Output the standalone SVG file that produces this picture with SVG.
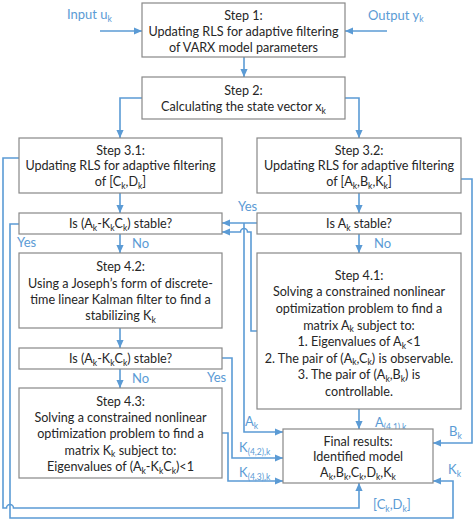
<svg xmlns="http://www.w3.org/2000/svg" width="474" height="520" viewBox="0 0 474 520">
<style>
.b{fill:#fff;stroke:#888;stroke-width:1.2}
.t{font-family:Lato,"Liberation Sans",sans-serif;font-size:12.6px;fill:#262626;text-anchor:middle}
.l{font-family:Lato,"Liberation Sans",sans-serif;font-size:13px;fill:#5b9bd5}
.s{font-size:8.5px}
.c{fill:none;stroke:#5b9bd5;stroke-width:1.6}
</style>
<defs>
<marker id="a" viewBox="0 0 10 10" refX="10" refY="5" markerWidth="8" markerHeight="8" orient="auto" markerUnits="userSpaceOnUse">
<path d="M0,0.5 L10,5 L0,9.5 z" fill="#5b9bd5"/>
</marker>
</defs>
<rect width="474" height="520" fill="#fff"/>

<g id="connectors">
<path class="c" d="M100,31 H142" marker-end="url(#a)"/>
<path class="c" d="M387,31 H345" marker-end="url(#a)"/>
<path class="c" d="M244,57 V77" marker-end="url(#a)"/>
<path class="c" d="M142,98 H120 V138" marker-end="url(#a)"/>
<path class="c" d="M345,98 H359 V138" marker-end="url(#a)"/>
<path class="c" d="M120,193 V213" marker-end="url(#a)"/>
<path class="c" d="M359,193 V213" marker-end="url(#a)"/>
<path class="c" d="M257,223 H222" marker-end="url(#a)"/>
<path class="c" d="M244,223 V432 H283" marker-end="url(#a)"/>
<path class="c" d="M257,331 H251 V232 H247.5 A3.5,3.5 0 0 0 240.5,232 H222" marker-end="url(#a)"/>
<path class="c" d="M120,234 V253" marker-end="url(#a)"/>
<path class="c" d="M120,328 V348" marker-end="url(#a)"/>
<path class="c" d="M120,369 V388" marker-end="url(#a)"/>
<path class="c" d="M222,358 H232 V458 H283" marker-end="url(#a)"/>
<path class="c" d="M222,433 H228 V481 H283" marker-end="url(#a)"/>
<path class="c" d="M359,234 V253" marker-end="url(#a)"/>
<path class="c" d="M359,409 V429" marker-end="url(#a)"/>
<path class="c" d="M461,179 H472 V443 H433" marker-end="url(#a)"/>
<path class="c" d="M19,158 H3 V508 H6.5 A3.5,3.5 0 0 1 13.5,508 H359 V483" marker-end="url(#a)"/>
<path class="c" d="M19,224 H10 V518 H453 V481 H433" marker-end="url(#a)"/>
</g>

<g id="labels">
<text class="l" x="67" y="19">Input u<tspan class="s" dy="2.5">k</tspan></text>
<text class="l" x="368" y="19.5">Output y<tspan class="s" dy="2.5">k</tspan></text>
<text class="l" x="238" y="211">Yes</text>
<text class="l" x="17" y="247">Yes</text>
<text class="l" x="132" y="248">No</text>
<text class="l" x="374" y="248">No</text>
<text class="l" x="132" y="383">No</text>
<text class="l" x="207" y="382">Yes</text>
<text class="l" x="245" y="426">A<tspan class="s" dy="2.5">k</tspan></text>
<text class="l" x="375" y="427">A<tspan class="s" dy="2.5">(4,1),k</tspan></text>
<text class="l" x="449" y="436">B<tspan class="s" dy="2.5">k</tspan></text>
<text class="l" x="239" y="452">K<tspan class="s" dy="2.5">(4,2),k</tspan></text>
<text class="l" x="239" y="477">K<tspan class="s" dy="2.5">(4,3),k</tspan></text>
<text class="l" x="448" y="474">K<tspan class="s" dy="2.5">k</tspan></text>
<text class="l" x="373" y="509">[C<tspan class="s" dy="2.5">k</tspan><tspan dy="-2.5">,D</tspan><tspan class="s" dy="2.5">k</tspan><tspan dy="-2.5">]</tspan></text>
</g>

<g id="step1">
<rect class="b" x="142" y="3" width="203" height="54"/>
<text class="t" x="243.5" y="19.5">Step 1:</text>
<text class="t" x="243.5" y="35.5">Updating RLS for adaptive filtering</text>
<text class="t" x="243.5" y="51.5">of VARX model parameters</text>
</g>

<g id="step2">
<rect class="b" x="142" y="77" width="203" height="42"/>
<text class="t" x="243.5" y="94.5">Step 2:</text>
<text class="t" x="243.5" y="111">Calculating the state vector x<tspan class="s" dy="2.5">k</tspan></text>
</g>

<g id="step31">
<rect class="b" x="19" y="138" width="203" height="55"/>
<text class="t" x="120.5" y="154.5">Step 3.1:</text>
<text class="t" x="120.5" y="170">Updating RLS for adaptive filtering</text>
<text class="t" x="120.5" y="186">of [C<tspan class="s" dy="2.5">k</tspan><tspan dy="-2.5">,D</tspan><tspan class="s" dy="2.5">k</tspan><tspan dy="-2.5">]</tspan></text>
</g>

<g id="step32">
<rect class="b" x="257" y="138" width="204" height="55"/>
<text class="t" x="359" y="154.5">Step 3.2:</text>
<text class="t" x="359" y="170">Updating RLS for adaptive filtering</text>
<text class="t" x="359" y="186">of [A<tspan class="s" dy="2.5">k</tspan><tspan dy="-2.5">,B</tspan><tspan class="s" dy="2.5">k</tspan><tspan dy="-2.5">,K</tspan><tspan class="s" dy="2.5">k</tspan><tspan dy="-2.5">]</tspan></text>
</g>

<g id="check1">
<rect class="b" x="19" y="213" width="203" height="21"/>
<text class="t" x="120.5" y="228">Is (A<tspan class="s" dy="2.5">k</tspan><tspan dy="-2.5">-K</tspan><tspan class="s" dy="2.5">k</tspan><tspan dy="-2.5">C</tspan><tspan class="s" dy="2.5">k</tspan><tspan dy="-2.5">) stable?</tspan></text>
</g>

<g id="checkA">
<rect class="b" x="257" y="213" width="204" height="21"/>
<text class="t" x="359" y="228">Is A<tspan class="s" dy="2.5">k</tspan><tspan dy="-2.5"> stable?</tspan></text>
</g>

<g id="step42">
<rect class="b" x="19" y="253" width="203" height="75"/>
<text class="t" x="120.5" y="271">Step 4.2:</text>
<text class="t" x="120.5" y="288">Using a Joseph’s form of discrete-</text>
<text class="t" x="120.5" y="304">time linear Kalman filter to find a</text>
<text class="t" x="120.5" y="320">stabilizing K<tspan class="s" dy="2.5">k</tspan></text>
</g>

<g id="check2">
<rect class="b" x="19" y="348" width="203" height="21"/>
<text class="t" x="120.5" y="363">Is (A<tspan class="s" dy="2.5">k</tspan><tspan dy="-2.5">-K</tspan><tspan class="s" dy="2.5">k</tspan><tspan dy="-2.5">C</tspan><tspan class="s" dy="2.5">k</tspan><tspan dy="-2.5">) stable?</tspan></text>
</g>

<g id="step43">
<rect class="b" x="19" y="388" width="203" height="90"/>
<text class="t" x="120.5" y="406">Step 4.3:</text>
<text class="t" x="120.5" y="421.5">Solving a constrained nonlinear</text>
<text class="t" x="120.5" y="438">optimization problem to find a</text>
<text class="t" x="120.5" y="454.5">matrix K<tspan class="s" dy="2.5">k</tspan><tspan dy="-2.5"> subject to:</tspan></text>
<text class="t" x="120.5" y="471">Eigenvalues of (A<tspan class="s" dy="2.5">k</tspan><tspan dy="-2.5">-K</tspan><tspan class="s" dy="2.5">k</tspan><tspan dy="-2.5">C</tspan><tspan class="s" dy="2.5">k</tspan><tspan dy="-2.5">)&lt;1</tspan></text>
</g>

<g id="step41">
<rect class="b" x="257" y="253" width="204" height="156"/>
<text class="t" x="359" y="279.5">Step 4.1:</text>
<text class="t" x="359" y="296">Solving a constrained nonlinear</text>
<text class="t" x="359" y="312.5">optimization problem to find a</text>
<text class="t" x="359" y="329.5">matrix A<tspan class="s" dy="2.5">k</tspan><tspan dy="-2.5"> subject to:</tspan></text>
<text class="t" x="359" y="346">1. Eigenvalues of A<tspan class="s" dy="2.5">k</tspan><tspan dy="-2.5">&lt;1</tspan></text>
<text class="t" x="359" y="362.5">2. The pair of (A<tspan class="s" dy="2.5">k</tspan><tspan dy="-2.5">,C</tspan><tspan class="s" dy="2.5">k</tspan><tspan dy="-2.5">) is observable.</tspan></text>
<text class="t" x="359" y="379">3. The pair of (A<tspan class="s" dy="2.5">k</tspan><tspan dy="-2.5">,B</tspan><tspan class="s" dy="2.5">k</tspan><tspan dy="-2.5">) is</tspan></text>
<text class="t" x="359" y="395.5">controllable.</text>
</g>

<g id="final">
<rect class="b" x="283" y="429" width="150" height="54"/>
<text class="t" x="358" y="445.5">Final results:</text>
<text class="t" x="358" y="461">Identified model</text>
<text class="t" x="358" y="477">A<tspan class="s" dy="2.5">k</tspan><tspan dy="-2.5">,B</tspan><tspan class="s" dy="2.5">k</tspan><tspan dy="-2.5">,C</tspan><tspan class="s" dy="2.5">k</tspan><tspan dy="-2.5">,D</tspan><tspan class="s" dy="2.5">k</tspan><tspan dy="-2.5">,K</tspan><tspan class="s" dy="2.5">k</tspan></text>
</g>
</svg>
